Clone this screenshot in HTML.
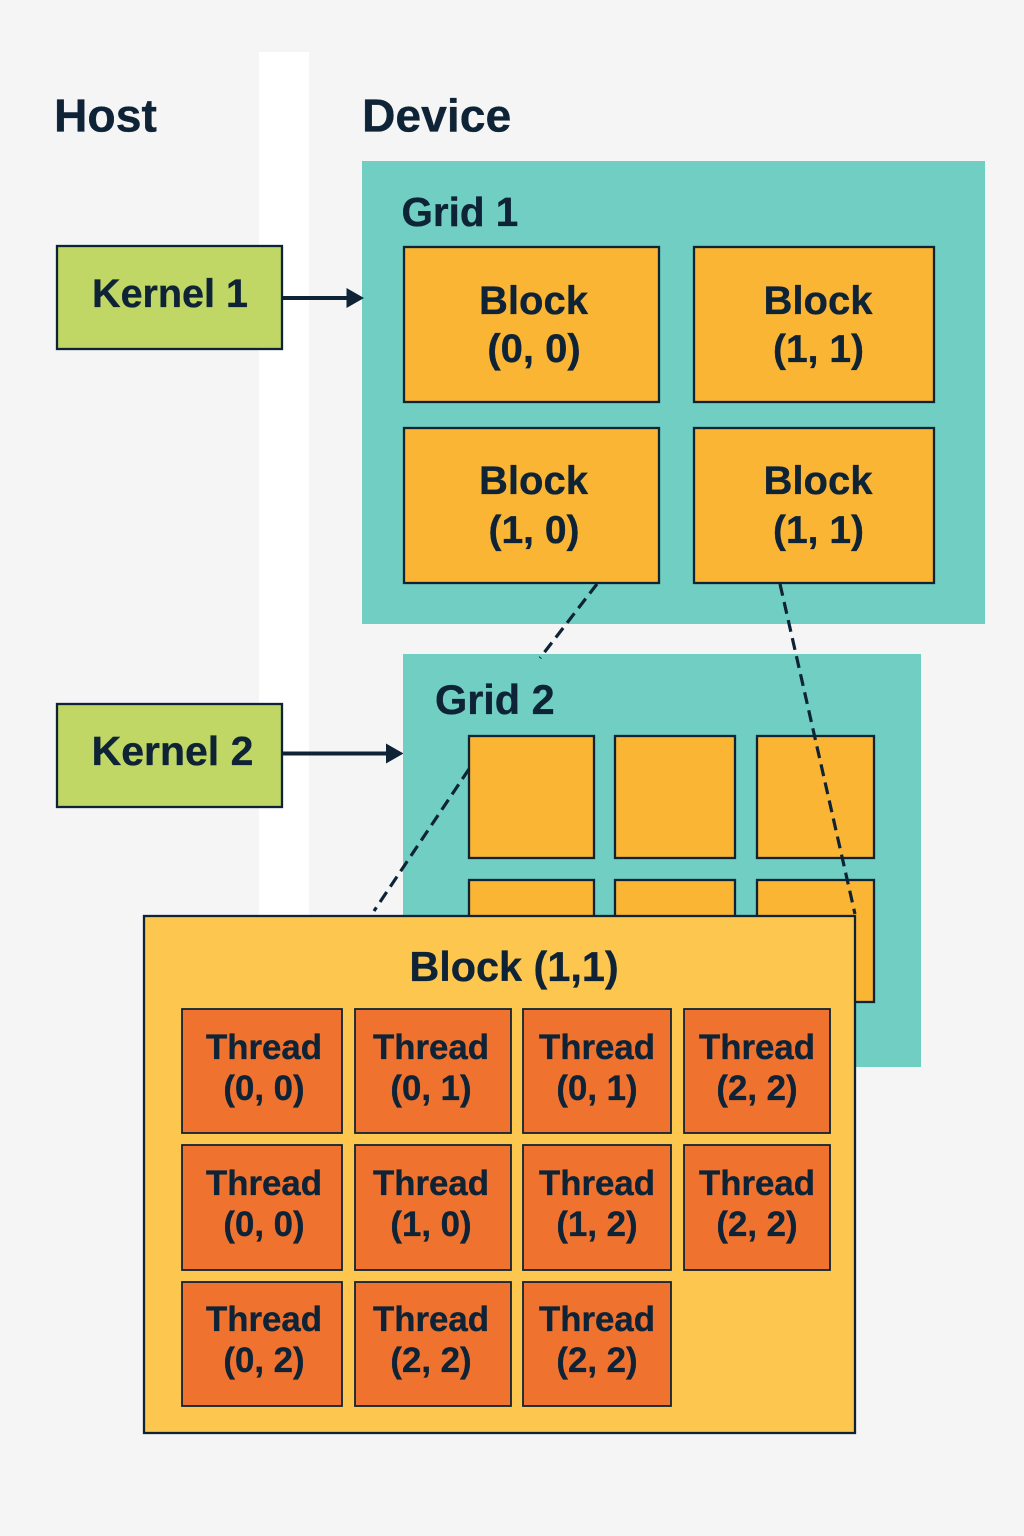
<!DOCTYPE html>
<html>
<head>
<meta charset="utf-8">
<style>
html,body{margin:0;padding:0;background:#f5f5f6;}
svg{display:block;}
text{font-family:"Liberation Sans",sans-serif;font-weight:700;fill:#0e2336;stroke:#0e2336;stroke-width:.35;text-anchor:middle;}
.s{stroke:#0e2336;stroke-width:2.3;}
.th{stroke:#0e2336;stroke-width:1.8;}
.b{fill:#fbb534;}
.t{fill:#ef722f;}
.k{fill:#c0d766;}
.l{font-size:40px;}
.kl{font-size:39.5px;}
.h{font-size:46.3px;text-anchor:start;}
.r{font-size:34.8px;}
</style>
</head>
<body>
<svg width="1024" height="1536" viewBox="0 0 1024 1536" xmlns="http://www.w3.org/2000/svg">
<rect width="1024" height="1536" fill="#f5f5f6"/>
<rect x="259" y="52" width="50" height="880" fill="#ffffff"/>
<text class="h" x="54" y="131.5">Host</text>
<text class="h" x="362" y="131.5">Device</text>

<rect x="362" y="161" width="623" height="463" fill="#70cfc2"/>
<text x="401.5" y="226" style="font-size:40.4px;text-anchor:start">Grid 1</text>

<rect class="s b" x="404" y="247" width="255" height="155"/>
<rect class="s b" x="694" y="247" width="240" height="155"/>
<rect class="s b" x="404" y="428" width="255" height="155"/>
<rect class="s b" x="694" y="428" width="240" height="155"/>
<text class="l" x="533.5" y="314">Block</text><text class="l" x="534" y="362">(0, 0)</text>
<text class="l" x="818" y="314">Block</text><text x="818.5" y="362" style="font-size:39px">(1, 1)</text>
<text class="l" x="533.5" y="494">Block</text><text x="534" y="543" style="font-size:39px">(1, 0)</text>
<text class="l" x="818" y="494">Block</text><text x="818.5" y="543" style="font-size:39px">(1, 1)</text>

<rect class="s k" x="57" y="246" width="225" height="103"/>
<text class="kl" x="170" y="307">Kernel 1</text>
<rect class="s k" x="57" y="704" width="225" height="103"/>
<text x="172.5" y="765" style="font-size:41px">Kernel 2</text>

<line x1="283" y1="298" x2="350" y2="298" stroke="#0e2336" stroke-width="4"/>
<polygon points="346.5,288 364,298 346.5,308" fill="#0e2336"/>
<line x1="283" y1="753.5" x2="390" y2="753.5" stroke="#0e2336" stroke-width="4"/>
<polygon points="386,743.5 403.5,753.5 386,763.5" fill="#0e2336"/>

<rect x="403" y="654" width="518" height="413" fill="#70cfc2"/>
<text x="435" y="714" style="font-size:41.4px;text-anchor:start">Grid 2</text>
<rect class="s b" x="469" y="736" width="125" height="122"/>
<rect class="s b" x="615" y="736" width="120" height="122"/>
<rect class="s b" x="757" y="736" width="117" height="122"/>
<rect class="s b" x="469" y="880" width="125" height="122"/>
<rect class="s b" x="615" y="880" width="120" height="122"/>
<rect class="s b" x="757" y="880" width="117" height="122"/>

<g stroke="#0e2336" stroke-width="3.2" stroke-dasharray="12 6.5" fill="none">
<line x1="597" y1="584" x2="540" y2="658"/>
<line x1="780" y1="584" x2="855" y2="914"/>
<line x1="469" y1="769" x2="374" y2="911"/>
</g>

<rect class="s" x="144" y="916" width="711" height="517" fill="#fdc64f"/>
<text x="514" y="981" style="font-size:41.4px">Block (1,1)</text>

<g>
<rect class="th t" x="182" y="1009" width="160" height="124"/>
<rect class="th t" x="355" y="1009" width="156" height="124"/>
<rect class="th t" x="523" y="1009" width="148" height="124"/>
<rect class="th t" x="684" y="1009" width="146" height="124"/>
<rect class="th t" x="182" y="1145" width="160" height="125"/>
<rect class="th t" x="355" y="1145" width="156" height="125"/>
<rect class="th t" x="523" y="1145" width="148" height="125"/>
<rect class="th t" x="684" y="1145" width="146" height="125"/>
<rect class="th t" x="182" y="1282" width="160" height="124"/>
<rect class="th t" x="355" y="1282" width="156" height="124"/>
<rect class="th t" x="523" y="1282" width="148" height="124"/>
</g>
<text class="r" x="264" y="1059">Thread</text><text class="r" x="264" y="1100">(0, 0)</text>
<text class="r" x="431" y="1059">Thread</text><text class="r" x="431" y="1100">(0, 1)</text>
<text class="r" x="597" y="1059">Thread</text><text class="r" x="597" y="1100">(0, 1)</text>
<text class="r" x="757" y="1059">Thread</text><text class="r" x="757" y="1100">(2, 2)</text>
<text class="r" x="264" y="1195">Thread</text><text class="r" x="264" y="1236">(0, 0)</text>
<text class="r" x="431" y="1195">Thread</text><text class="r" x="431" y="1236">(1, 0)</text>
<text class="r" x="597" y="1195">Thread</text><text class="r" x="597" y="1236">(1, 2)</text>
<text class="r" x="757" y="1195">Thread</text><text class="r" x="757" y="1236">(2, 2)</text>
<text class="r" x="264" y="1331">Thread</text><text class="r" x="264" y="1372">(0, 2)</text>
<text class="r" x="431" y="1331">Thread</text><text class="r" x="431" y="1372">(2, 2)</text>
<text class="r" x="597" y="1331">Thread</text><text class="r" x="597" y="1372">(2, 2)</text>
</svg>
</body>
</html>
